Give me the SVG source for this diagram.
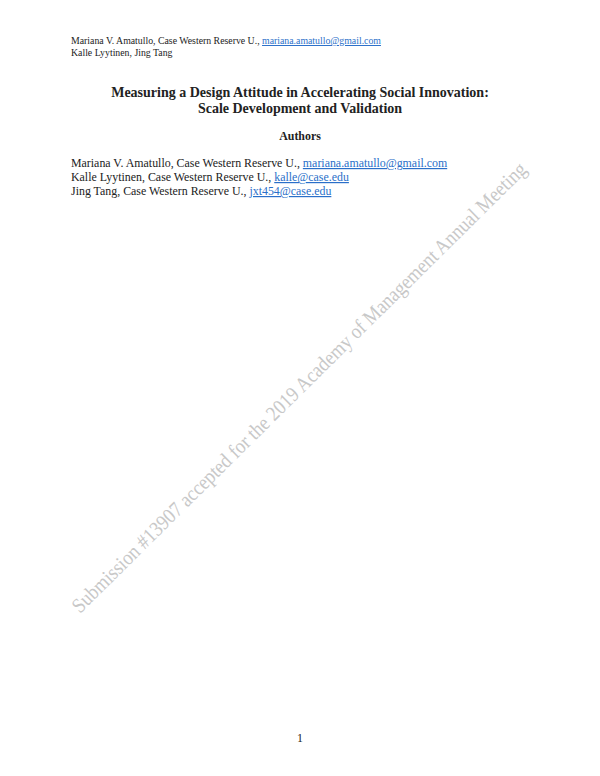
<svg xmlns="http://www.w3.org/2000/svg" width="600" height="776" viewBox="0 0 600 776">
<style>
text{font-family:"Liberation Serif","Times New Roman",serif;fill:#222}
.h{font-size:9.8px}
.b{font-size:11.9px}
.t{font-size:14px;font-weight:bold;text-anchor:middle}
.l{fill:#2a6fc9;text-decoration:underline}
.w{font-size:21px;fill:#c8c8c8}
</style>
<rect width="600" height="776" fill="#fff"/>
<text class="h" x="71" y="44">Mariana V. Amatullo, Case Western Reserve U., <tspan class="l">mariana.amatullo@gmail.com</tspan></text>
<text class="h" x="71" y="56">Kalle Lyytinen, Jing Tang</text>
<text class="t" x="300" y="97">Measuring a Design Attitude in Accelerating Social Innovation:</text>
<text class="t" x="300" y="113">Scale Development and Validation</text>
<text class="b" x="300" y="140" style="font-weight:bold;text-anchor:middle">Authors</text>
<text class="b" x="71" y="167">Mariana V. Amatullo, Case Western Reserve U., <tspan class="l">mariana.amatullo@gmail.com</tspan></text>
<text class="b" x="71" y="181">Kalle Lyytinen, Case Western Reserve U., <tspan class="l">kalle@case.edu</tspan></text>
<text class="b" x="71" y="195">Jing Tang, Case Western Reserve U., <tspan class="l">jxt454@case.edu</tspan></text>
<text class="w" transform="translate(80,614) rotate(-44.7)" textLength="630" lengthAdjust="spacingAndGlyphs">Submission #13907 accepted for the 2019 Academy of Management Annual Meeting</text>
<text class="b" x="300" y="742" style="text-anchor:middle">1</text>
</svg>
